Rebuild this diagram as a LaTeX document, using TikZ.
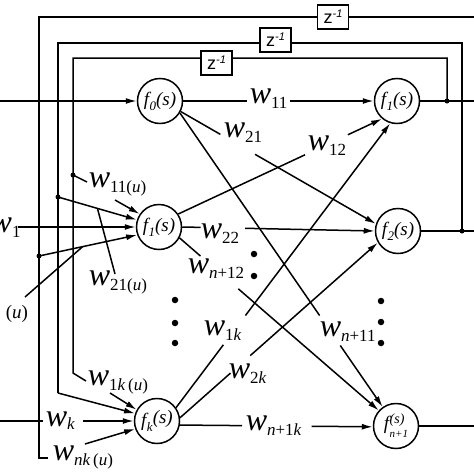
\documentclass[tikz,border=0pt]{standalone}
\usepackage{fontspec}
\setmainfont{Liberation Serif}
\newfontfamily\zfont{Liberation Sans}
\usetikzlibrary{arrows.meta,calc}
\newcommand\wlab[1]{{\fontsize{32}{32}\selectfont\itshape w}\raisebox{-5pt}{\fontsize{17}{17}\selectfont #1}}
\newcommand\flab[2]{{\fontsize{19}{19}\selectfont\itshape f\kern0.5pt\raisebox{-5pt}{\fontsize{13}{13}\selectfont #1}#2}}
\newcommand\zinv{{\zfont\fontsize{18}{18}\selectfont z\raisebox{6pt}{\fontsize{11}{11}\selectfont\itshape -1}}}
\begin{document}
\begin{tikzpicture}[x=1pt,y=-1pt,line width=1.5pt,
  neuron/.style={circle,draw,fill=white,minimum size=45pt,inner sep=0pt},
  wl/.style={anchor=base west,inner sep=0pt,text height=16pt,text depth=8pt},
  zbox/.style={draw,fill=white,minimum width=31pt,minimum height=24pt,inner sep=0pt,line width=1.8pt},
  arr/.style={-{Latex[length=11pt,width=6pt]}},
  jdot/.style={circle,fill,inner sep=0pt,minimum size=5pt},
  edot/.style={circle,fill,inner sep=0pt,minimum size=6.5pt}]
\useasboundingbox (0,0) rectangle (474,474);
% neurons
\node[neuron] (F0) at (160,101) {\flab{0}{(s)}};
\node[neuron] (F1L) at (159,227) {\flab{1}{(s)}};
\node[neuron] (FK) at (157,421) {\flab{k}{\raisebox{3pt}{(s)}}};
\node[neuron] (F1R) at (397,101) {\flab{1}{(s)}};
\node[neuron] (F2) at (398,231) {\flab{2}{(s)}};
\node[neuron] (FN) at (396,426) {{\fontsize{19}{19}\selectfont\itshape f\kern0.5pt\rlap{\raisebox{6pt}{\fontsize{14}{14}\selectfont (s)}}\raisebox{-8pt}{\fontsize{11}{11}\selectfont n+1}}};
% coordinates
\coordinate (E1) at (474,17);
\coordinate (C1a) at (39,17);
\coordinate (B1) at (39,458);
\coordinate (B1e) at (48,458);
\coordinate (R2) at (462,231);
\coordinate (C2a) at (462,43);
\coordinate (C2b) at (58,43);
\coordinate (B2) at (58,393);
\coordinate (R1) at (447,101);
\coordinate (C3a) at (447,58);
\coordinate (C3b) at (73,58);
\coordinate (B3) at (73,373);
\coordinate (B3e) at (86,381);
\coordinate (D3) at (73,175);
\coordinate (D2) at (58,197);
\coordinate (D1) at (39,256);
\coordinate (IN0) at (0,101);
\coordinate (IN1) at (18,227);
\coordinate (INk) at (0,421);
\coordinate (INke) at (43,421);
\coordinate (Ak) at (83,421);
\coordinate (O1) at (474,101);
\coordinate (O2) at (474,231);
\coordinate (O3) at (474,426);
\coordinate (A11u) at (115,200);
\coordinate (E11u) at (87,182);
\coordinate (A1ku) at (110,393);
\coordinate (Anku) at (85,444);
\coordinate (L21u) at (115,274);
\coordinate (Lu) at (25,297);
% feedback loops
\draw (E1) -- (C1a) -- (B1) -- (B1e);
\draw (R2) -- (C2a) -- (C2b) -- (B2);
\draw (R1) -- (C3a) -- (C3b) -- (B3) -- (B3e);
\node[zbox] (Z1) at (333,17) {\zinv};
\node[zbox] (Z2) at (275.5,40) {\zinv};
\node[zbox] (Z3) at (216.5,63) {\zinv};
% outputs
\draw (F1R.east) -- (O1);
\draw (F2.east) -- (O2);
\draw (FN.east) -- (O3);
\node[jdot] (J1) at (R1) {};
\node[jdot] (J2) at (R2) {};
% inputs
\draw[arr] (IN0) -- (F0.west);
\draw[arr] (IN1) -- (F1L.west);
\draw (INk) -- (INke);
\draw[arr] (Ak) -- (FK.west);
\draw (D3) -- (E11u);
\draw[arr] (A11u) -- (F1L.146);
\draw[arr] (D2) -- (F1L.162);
\draw[arr] (D1) -- (F1L.200);
\draw ($(D2)!0.5!(F1L.162)$) -- (L21u);
\draw (Lu) -- ($(D1)!0.445!(F1L.200)$);
\draw[arr] (A1ku) -- (FK.151);
\draw[arr] (B2) -- (FK.161);
\draw[arr] (Anku) -- (FK.200);
\node[jdot] (J3) at (D3) {};
\node[jdot] (J4) at (D2) {};
\node[jdot] (J5) at (D1) {};
% weighted connections
\draw (F0.east) -- ($(F0.east)!0.336!(F1R.west)$);
\draw[arr] ($(F0.east)!0.560!(F1R.west)$) -- (F1R.west);
\draw (F0.-27) -- ($(F0.-27)!0.203!(F2.162)$);
\draw[arr] ($(F0.-27)!0.381!(F2.162)$) -- (F2.162);
\draw (F0.-31) -- ($(F0.-31)!0.689!(FN.125)$);
\draw[arr] ($(F0.-31)!0.791!(FN.125)$) -- (FN.125);
\draw (F1L.34) -- ($(F1L.34)!0.622!(F1R.230)$);
\draw[arr] ($(F1L.34)!0.832!(F1R.230)$) -- (F1R.230);
\draw (F1L.east) -- ($(F1L.east)!0.095!(F2.west)$);
\draw[arr] ($(F1L.east)!0.327!(F2.west)$) -- (F2.west);
\draw (F1L.-28) -- ($(F1L.-28)!0.105!(FN.138)$);
\draw[arr] ($(F1L.-28)!0.295!(FN.138)$) -- (FN.138);
\draw (FK.35) -- ($(FK.35)!0.221!(F1R.253)$);
\draw[arr] ($(FK.35)!0.324!(F1R.253)$) -- (F1R.253);
\draw (FK.8) -- ($(FK.8)!0.255!(F2.210)$);
\draw[arr] ($(FK.8)!0.355!(F2.210)$) -- (F2.210);
\draw (FK.-10) -- ($(FK.-10)!0.323!(FN.182)$);
\draw[arr] ($(FK.-10)!0.683!(FN.182)$) -- (FN.182);
% weight labels
\node[wl] (Lw11) at (249,103) {\wlab{11}};
\node[wl] (Lw21) at (223,137) {\wlab{21}};
\node[wl] (Lwn11) at (319,336) {\wlab{\textit{n}+11}};
\node[wl] (Lw12) at (307,150) {\wlab{12}};
\node[wl] (Lw22) at (200,238) {\wlab{22}};
\node[wl] (Lwn12) at (187,273) {\wlab{\textit{n}+12}};
\node[wl] (Lw1k) at (203,335) {\wlab{1\textit{k}}};
\node[wl] (Lw2k) at (228,378) {\wlab{2\textit{k}}};
\node[wl] (Lwn1k) at (245,430) {\wlab{\textit{n}+1\textit{k}}};
\node[wl] (Lw1) at (-10,232) {\wlab{1}};
\node[wl] (Lwk) at (45,426) {{\fontsize{32}{32}\selectfont\itshape w}\raisebox{-3pt}{\fontsize{17}{17}\selectfont\textit{k}}};
\node[wl] (Lw11u) at (88,187) {\wlab{11(\textit{u})}};
\node[wl] (Lw21u) at (88,285) {\wlab{21(\textit{u})}};
\node[wl] (Lw1ku) at (87,385) {\wlab{1\textit{k}\,(\textit{u})}};
\node[wl] (Lwnku) at (52,460) {\wlab{\textit{nk}\,(\textit{u})}};
\node[wl] (Lul) at (5,318) {\fontsize{19}{19}\selectfont(\textit{u})};
% ellipsis dots
\node[edot] (e1) at (254,254) {};
\node[edot] (e2) at (254,276) {};
\node[edot] (e3) at (175,300) {};
\node[edot] (e4) at (175,323) {};
\node[edot] (e5) at (175,343) {};
\node[edot] (e6) at (381,301) {};
\node[edot] (e7) at (381,322) {};
\node[edot] (e8) at (381,343) {};
\end{tikzpicture}
\end{document}
